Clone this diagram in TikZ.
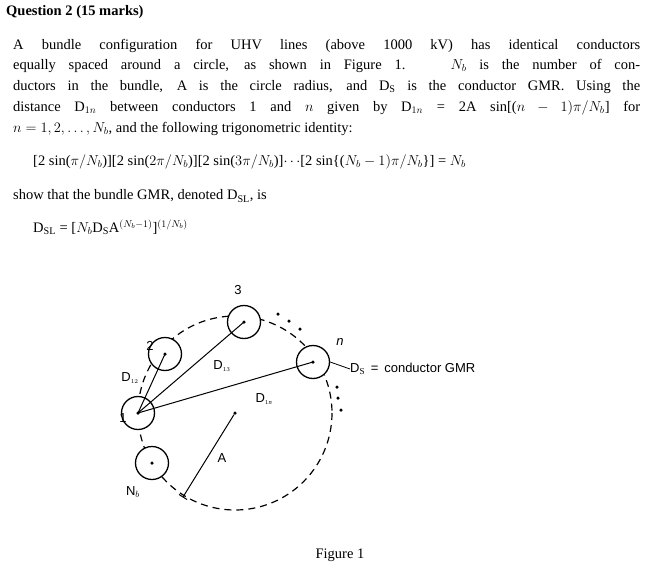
\documentclass[tikz,border=0pt]{standalone}
\usepackage{fontspec}
\usetikzlibrary{calc}
\setmainfont{Liberation Serif}
\newfontfamily\figfont{Liberation Sans}
\begin{document}
\begin{tikzpicture}[x=1pt,y=-1pt,
  txt/.style={anchor=west,inner sep=0pt,font=\fontsize{14.5}{16}\selectfont},
  cond/.style={circle,draw,line width=1.3pt,fill=white,minimum size=33pt,inner sep=0pt},
  lab/.style={font=\figfont\fontsize{13}{14}\selectfont,inner sep=0pt},
  dot/.style={circle,fill,inner sep=0pt,minimum size=3.5pt}]
\useasboundingbox (0,0) rectangle (651,570);
\node[txt] (t0) at (6,12) {\textbf{Question 2 (15 marks)}};
\node[txt] (t1) at (13,46) {\makebox[627pt][s]{A bundle configuration for UHV lines (above 1000 kV) has identical conductors}};
\node[txt] (t2) at (13,66) {\makebox[627pt][s]{equally spaced around a circle, as shown in Figure 1. \ $N_b$ is the number of con-}};
\node[txt] (t3) at (13,87) {\makebox[627pt][s]{ductors in the bundle, A is the circle radius, and D$_{\mathrm{S}}$ is the conductor GMR. Using the}};
\node[txt] (t4) at (13,108) {\makebox[627pt][s]{distance D$_{1n}$ between conductors 1 and $n$ given by D$_{1n}$ = 2A sin[($n-1)\pi/N_b$] for}};
\node[txt] (t5) at (13,129) {$n = 1, 2, \ldots, N_b$, and the following trigonometric identity:};
\node[txt] (t6) at (33,162) {[2 sin($\pi/N_b$)][2 sin($2\pi/N_b$)][2 sin($3\pi/N_b$)]$\cdots$[2 sin\{($N_b-1)\pi/N_b$\}] = $N_b$};
\node[txt] (t7) at (13,196) {show that the bundle GMR, denoted D$_{\mathrm{SL}}$, is};
\node[txt] (t8) at (33,227) {D$_{\mathrm{SL}}$ = [$N_b$D$_{\mathrm S}$A$^{(N_b-1)}$]$^{(1/N_b)}$};
% figure
\coordinate (O) at (235,413);
\draw[line width=1.2pt,dash pattern=on 7pt off 5pt] (O) circle (97);
\node[cond] (c1) at (138,413) {};
\node[cond] (c2) at (165,354) {};
\node[cond] (c3) at (244,322) {};
\node[cond] (cn) at (313,362) {};
\node[cond] (cb) at (152,463) {};
\foreach \c in {c1,c2,c3,cn,cb} \node[dot] at (\c) {};
\node[dot] (o) at (O) {};
\coordinate (rim) at (183,497);
\draw[line width=1pt] (c1.center) -- (c2.center);
\draw[line width=1pt] (c1.center) -- (c3.center);
\draw[line width=1pt] (c1.center) -- (cn.center);
\draw[line width=1pt] (o) -- (rim);
\draw[line width=1pt] ($(rim)+(-4,-2.5)$) -- ($(rim)+(4,2.5)$);
\foreach \p in {(278,314),(289,321),(300,329),(337,387),(338,398),(341,410)} \node[dot] at \p {};
\node[lab] at (238,290) {3};
\node[lab] at (150,346) {2};
\node[lab] at (130,378) {D$_{\scriptscriptstyle 12}$};
\node[lab] at (123,418) {1};
\node[lab] at (133,492) {N$_b$};
\node[lab] at (340,342) {\itshape n};
\node[lab] at (222,366) {D$_{\scriptscriptstyle 13}$};
\node[lab] at (264,399) {D$_{\scriptscriptstyle 1\mathit{n}}$};
\node[lab] at (222,458) {A};
\node[lab,anchor=west] (ds) at (350,369) {D$_{\mathrm S}$ \,=\, conductor GMR};
\draw[line width=0.8pt] (cn.east) -- (ds.west);
\node[txt,anchor=center] (cap) at (340,555) {Figure 1};
\end{tikzpicture}
\end{document}
